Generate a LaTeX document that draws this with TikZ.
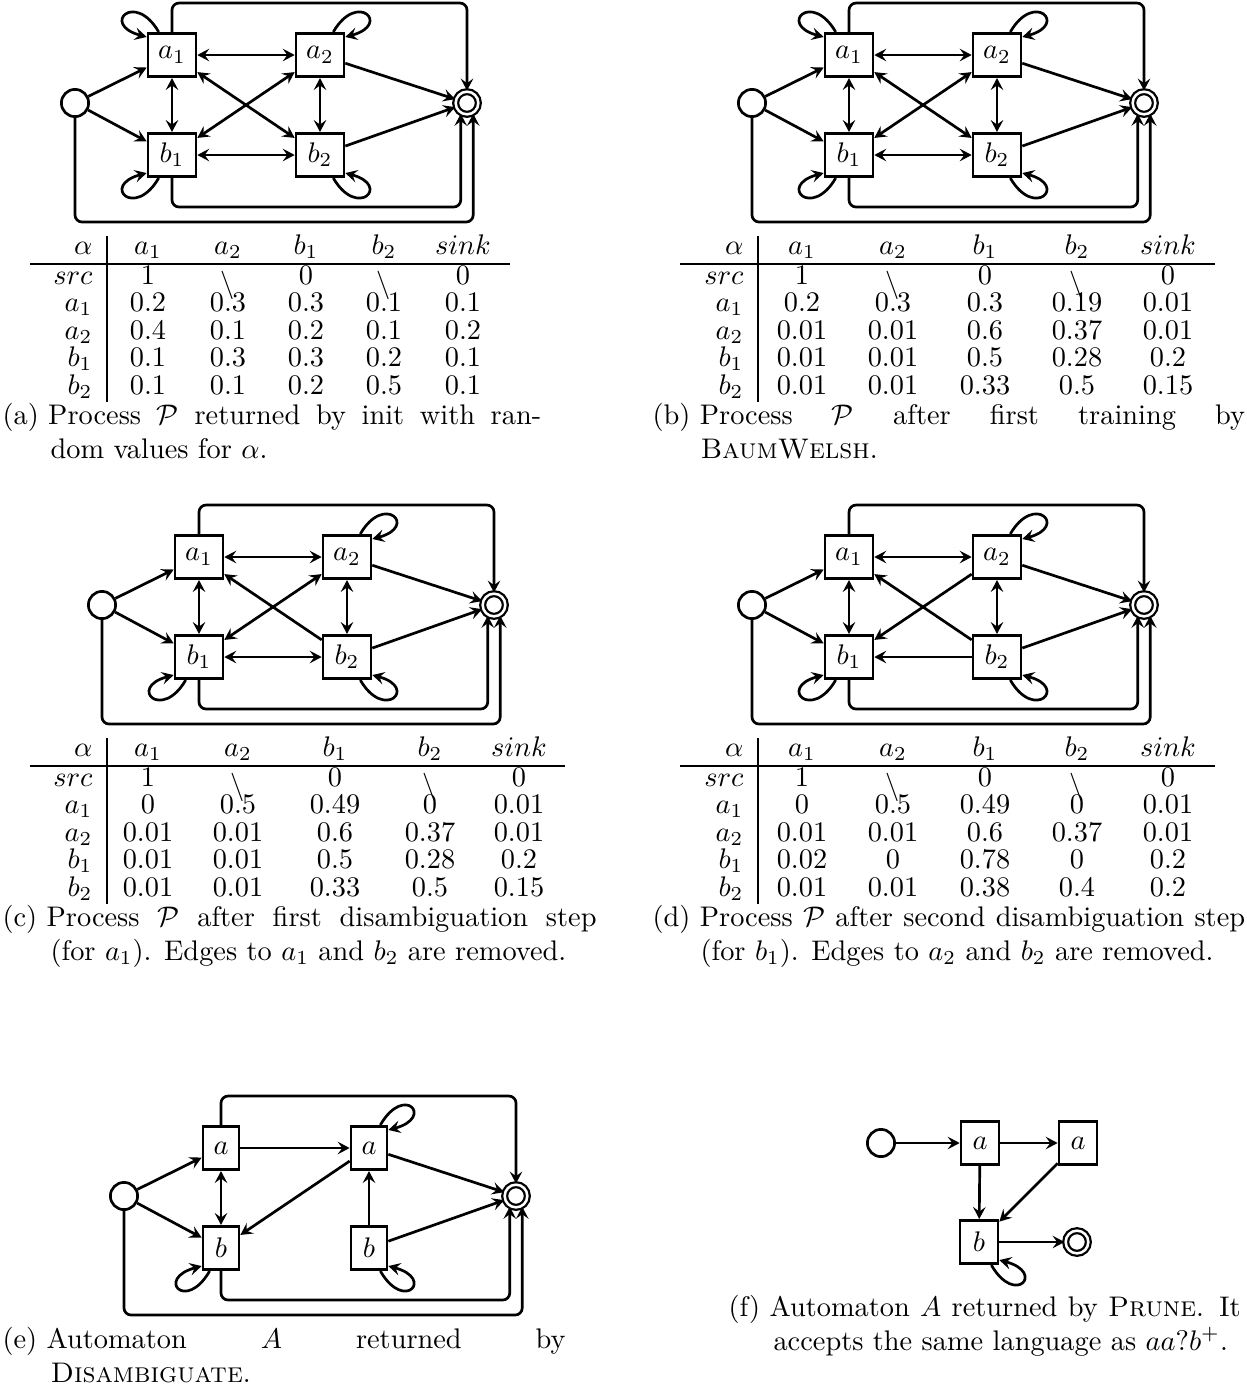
\documentclass[tikz,border=0pt]{standalone}
\usetikzlibrary{arrows.meta,calc}
\tikzset{
 ed/.style={line width=0.95pt},
 bx/.style={draw, line width=0.95pt, minimum height=15.3pt, inner sep=0pt},
 st/.style={circle, draw, line width=0.95pt, minimum size=9.6pt, inner sep=0pt},
 acc/.style={circle, draw, line width=0.8pt, double, double distance=0.9pt, minimum size=8pt, inner sep=0pt},
 tc/.style={inner sep=0pt, anchor=base},
 rl/.style={line width=0.5pt},
 captxt/.style={inner sep=0pt, anchor=base west},
}
\newcommand\gbase[7]{%
\node[st] (#1src) at (75,-103) {};
\node[bx,minimum width=#6] (#1a1) at (172,-55) {$#2$};
\node[bx,minimum width=#6] (#1a2) at (320,-55) {$#3$};
\node[bx,minimum width=#6] (#1b1) at (172,-155) {$#4$};
\node[bx,minimum width=#6] (#1b2) at (320,-155) {$#5$};
\node[acc] (#1sink) at (467,-103) {};
\draw[ed,->] (#1src) -- (#1a1);
\draw[ed,->] (#1src) -- (#1b1);
\draw[ed,->] (#1a2) -- (#1sink);
\draw[ed,->] (#1b2) -- (#1sink);
\draw[ed,->,rounded corners=2.5pt] (#1a1.north) |- (#1sink.north |- 0,-3) -- (#1sink.north);
\draw[ed,->,rounded corners=2.5pt] (#1b1.south) |- (#1sink.-120 |- 0,-207) -- (#1sink.-120);
\draw[ed,->,rounded corners=2.5pt] (#1src.south) |- (#1sink.-60 |- 0,-222) -- (#1sink.-60);
\draw[ed,->] ($(#1a2.north east)+(-#7,0)$) .. controls +(60:48) and +(15:48) .. ($(#1a2.north east)+(0,-5)$);
\draw[ed,->] ($(#1b1.south west)+(#7,0)$) .. controls +(240:48) and +(195:48) .. ($(#1b1.south west)+(0,5)$);
\draw[ed,->] ($(#1b2.south east)+(-#7,0)$) .. controls +(300:48) and +(345:48) .. ($(#1b2.south east)+(0,5)$);
}
\newcommand\aoneloop[2]{\draw[ed,->] ($(#1a1.north west)+(#2,0)$) .. controls +(120:48) and +(165:48) .. ($(#1a1.north west)+(0,-5)$);}
\newcommand\trow[8]{%
\node[tc,anchor=base east] (#1x) at (\cA,#2) {#3};
\node[tc] (#1a) at (\cB,#2) {#4};
\node[tc] (#1b) at (\cC,#2) {#5};
\node[tc] (#1c) at (\cD,#2) {#6};
\node[tc] (#1d) at (\cE,#2) {#7};
\node[tc] (#1e) at (\cF,#2) {#8};}
\newcommand\bs{\raisebox{-3pt}{$\backslash$}}
\begin{document}
\begin{tikzpicture}[x=0.3527pt,y=0.3527pt,>={Stealth[length=4.2pt,width=4.4pt,inset=1.6pt]}]
\useasboundingbox (0,0) rectangle (1247,-1387);
% (a)
\begin{scope}
\gbase{A}{a_1}{a_2}{b_1}{b_2}{16.9pt}{12}
\aoneloop{A}{12}
\draw[ed,<->] (Aa1) -- (Aa2);
\draw[ed,<->] (Aa1) -- (Ab1);
\draw[ed,<->] (Aa2) -- (Ab2);
\draw[ed,<->] (Ab1) -- (Ab2);
\draw[ed,<->] (Aa1) -- (Ab2);
\draw[ed,<->] (Aa2) -- (Ab1);
\end{scope}
% (b)
\begin{scope}[shift={(677,0)}]
\gbase{B}{a_1}{a_2}{b_1}{b_2}{16.9pt}{12}
\aoneloop{B}{12}
\draw[ed,<->] (Ba1) -- (Ba2);
\draw[ed,<->] (Ba1) -- (Bb1);
\draw[ed,<->] (Ba2) -- (Bb2);
\draw[ed,<->] (Bb1) -- (Bb2);
\draw[ed,<->] (Ba1) -- (Bb2);
\draw[ed,<->] (Ba2) -- (Bb1);
\end{scope}
% (c)
\begin{scope}[shift={(27,-502)}]
\gbase{C}{a_1}{a_2}{b_1}{b_2}{16.9pt}{12}
\draw[ed,<->] (Ca1) -- (Ca2);
\draw[ed,<->] (Ca1) -- (Cb1);
\draw[ed,<->] (Ca2) -- (Cb2);
\draw[ed,<->] (Cb1) -- (Cb2);
\draw[ed,->] (Cb2) -- (Ca1);
\draw[ed,<->] (Ca2) -- (Cb1);
\end{scope}
% (d)
\begin{scope}[shift={(677,-502)}]
\gbase{D}{a_1}{a_2}{b_1}{b_2}{16.9pt}{12}
\draw[ed,<->] (Da1) -- (Da2);
\draw[ed,<->] (Da1) -- (Db1);
\draw[ed,<->] (Da2) -- (Db2);
\draw[ed,->] (Db2) -- (Db1);
\draw[ed,->] (Db2) -- (Da1);
\draw[ed,->] (Da2) -- (Db1);
\end{scope}
% (e)
\begin{scope}[shift={(49,-1093)}]
\gbase{E}{a}{a}{b}{b}{12.7pt}{8}
\draw[ed,->] (Ea1) -- (Ea2);
\draw[ed,<->] (Ea1) -- (Eb1);
\draw[ed,->] (Eb2) -- (Ea2);
\draw[ed,->] (Ea2) -- (Eb1);
\end{scope}
% (f)
\node[st] (Fsrc) at (881,-1143) {};
\node[bx,minimum width=13.4pt] (Fa1) at (980,-1143) {$a$};
\node[bx,minimum width=13.4pt] (Fa2) at (1078,-1143) {$a$};
\node[bx,minimum width=13.4pt] (Fb) at (979,-1242) {$b$};
\node[acc] (Fsink) at (1077,-1242) {};
\draw[ed,->] (Fsrc) -- (Fa1);
\draw[ed,->] (Fa1) -- (Fa2);
\draw[ed,->] (Fa1) -- (Fb);
\draw[ed,->] (Fa2) -- (Fb);
\draw[ed,->] (Fb) -- (Fsink);
\draw[ed,->] ($(Fb.south east)+(-8,0)$) .. controls +(300:48) and +(345:48) .. ($(Fb.south east)+(0,5)$);
% tables (a)
\def\cA{93}\def\cB{148}\def\cC{228}\def\cD{306}\def\cE{384}\def\cF{463}
\draw[rl] (30,-264) -- (510,-264);
\draw[rl] (107,-236) -- (107,-402);
\trow{TAh}{-254}{$\alpha$}{$a_1$}{$a_2$}{$b_1$}{$b_2$}{$sink$}
\trow{TAs}{-284}{$src$}{1}{\bs}{0}{\bs}{0}
\trow{TAa}{-311}{$a_1$}{0.2}{0.3}{0.3}{0.1}{0.1}
\trow{TAb}{-339}{$a_2$}{0.4}{0.1}{0.2}{0.1}{0.2}
\trow{TAc}{-366}{$b_1$}{0.1}{0.3}{0.3}{0.2}{0.1}
\trow{TAd}{-394}{$b_2$}{0.1}{0.1}{0.2}{0.5}{0.1}
% (b)
\def\cA{744}\def\cB{802}\def\cC{893}\def\cD{985}\def\cE{1077}\def\cF{1168}
\draw[rl] (680,-264) -- (1215,-264);
\draw[rl] (758,-236) -- (758,-402);
\trow{TBh}{-254}{$\alpha$}{$a_1$}{$a_2$}{$b_1$}{$b_2$}{$sink$}
\trow{TBs}{-284}{$src$}{1}{\bs}{0}{\bs}{0}
\trow{TBa}{-311}{$a_1$}{0.2}{0.3}{0.3}{0.19}{0.01}
\trow{TBb}{-339}{$a_2$}{0.01}{0.01}{0.6}{0.37}{0.01}
\trow{TBc}{-366}{$b_1$}{0.01}{0.01}{0.5}{0.28}{0.2}
\trow{TBd}{-394}{$b_2$}{0.01}{0.01}{0.33}{0.5}{0.15}
% (c)
\def\cA{93}\def\cB{148}\def\cC{238}\def\cD{335}\def\cE{430}\def\cF{519}
\draw[rl] (30,-766) -- (565,-766);
\draw[rl] (107,-738) -- (107,-904);
\trow{TCh}{-756}{$\alpha$}{$a_1$}{$a_2$}{$b_1$}{$b_2$}{$sink$}
\trow{TCs}{-786}{$src$}{1}{\bs}{0}{\bs}{0}
\trow{TCa}{-813}{$a_1$}{0}{0.5}{0.49}{0}{0.01}
\trow{TCb}{-841}{$a_2$}{0.01}{0.01}{0.6}{0.37}{0.01}
\trow{TCc}{-868}{$b_1$}{0.01}{0.01}{0.5}{0.28}{0.2}
\trow{TCd}{-896}{$b_2$}{0.01}{0.01}{0.33}{0.5}{0.15}
% (d)
\def\cA{744}\def\cB{802}\def\cC{893}\def\cD{985}\def\cE{1077}\def\cF{1168}
\draw[rl] (680,-766) -- (1215,-766);
\draw[rl] (758,-738) -- (758,-904);
\trow{TDh}{-756}{$\alpha$}{$a_1$}{$a_2$}{$b_1$}{$b_2$}{$sink$}
\trow{TDs}{-786}{$src$}{1}{\bs}{0}{\bs}{0}
\trow{TDa}{-813}{$a_1$}{0}{0.5}{0.49}{0}{0.01}
\trow{TDb}{-841}{$a_2$}{0.01}{0.01}{0.6}{0.37}{0.01}
\trow{TDc}{-868}{$b_1$}{0.02}{0}{0.78}{0}{0.2}
\trow{TDd}{-896}{$b_2$}{0.01}{0.01}{0.38}{0.4}{0.2}
% captions
\node[captxt] (capa1) at (2,-424) {\makebox[190pt][s]{(a)\kern3.33pt Process $\mathcal{P}$ returned by init with ran-}};
\node[captxt] (capa2) at (50,-458) {dom values for $\alpha$.};
\node[captxt] (capb1) at (652,-424) {\makebox[209pt][s]{(b)\kern3.33pt Process $\mathcal{P}$ after first training by}};
\node[captxt] (capb2) at (700,-458) {\textsc{BaumWelsh}.};
\node[captxt] (capc1) at (2,-926) {\makebox[209.5pt][s]{(c)\kern3.33pt Process $\mathcal{P}$ after first disambiguation step}};
\node[captxt] (capc2) at (50,-960) {(for $a_1$). Edges to $a_1$ and $b_2$ are removed.};
\node[captxt] (capd1) at (652,-926) {\makebox[209pt][s]{(d)\kern3.33pt Process $\mathcal{P}$ after second disambiguation step}};
\node[captxt] (capd2) at (700,-960) {(for $b_1$). Edges to $a_2$ and $b_2$ are removed.};
\node[captxt] (cape1) at (2,-1348) {\makebox[198.6pt][s]{(e)\kern3.33pt Automaton $A$ returned by}};
\node[captxt] (cape2) at (50,-1382) {\textsc{Disambiguate}.};
\node[captxt] (capf1) at (728,-1316) {\makebox[180.6pt][s]{(f)\kern3.33pt Automaton $A$ returned by \textsc{Prune}. It}};
\node[captxt] (capf2) at (773,-1350) {accepts the same language as $aa?b^+$.};
\end{tikzpicture}
\end{document}
